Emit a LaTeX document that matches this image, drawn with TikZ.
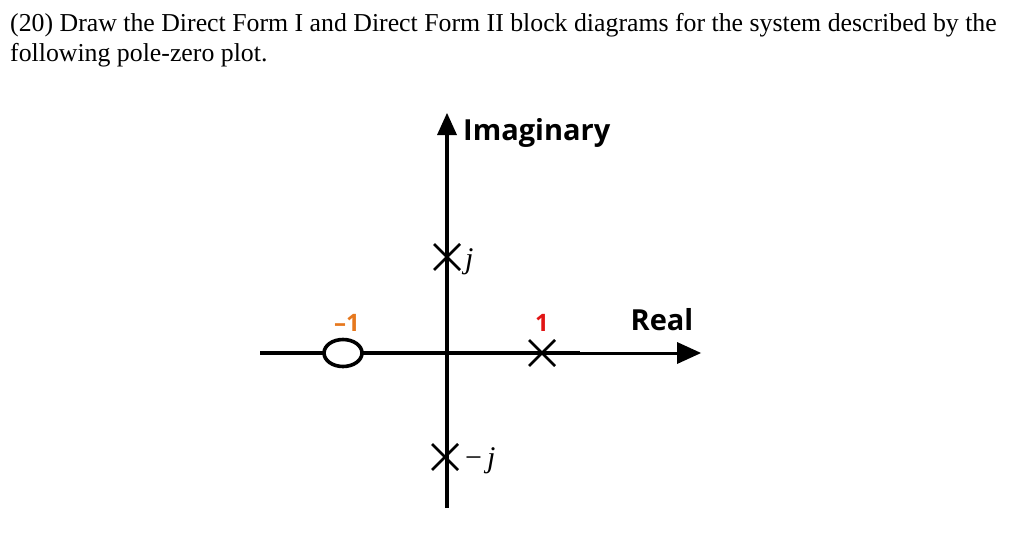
\documentclass[tikz,border=0pt]{standalone}
\usepackage{fontspec}
\setmainfont{Liberation Serif}
\newfontfamily\plotfont{Open Sans}
\begin{document}
\begin{tikzpicture}[x=1pt,y=-1pt,
  ax/.style={line width=4pt},
  cross/.style={line width=2.8pt},
  lbl/.style={font=\plotfont\bfseries\fontsize{29}{32}\selectfont, inner sep=0pt}]
\useasboundingbox (0,0) rectangle (1024,535);
\node[anchor=base west, inner sep=0pt, font=\fontsize{25.8}{30}\selectfont] (t1) at (10,32) {(20) Draw the Direct Form I and Direct Form II block diagrams for the system described by the};
\node[anchor=base west, inner sep=0pt, font=\fontsize{25.8}{30}\selectfont] (t2) at (10,62) {following pole-zero plot.};
% axes
\coordinate (o) at (447,353);
\draw[ax] (447,508) -- (447,128);
\fill (447,113) -- (457,135) -- (437,135) -- cycle;
\draw[ax] (260,353) -- (580,353);
\draw[line width=3pt] (580,353) -- (680,353);
\fill (701,353) -- (677,342) -- (677,364) -- cycle;
% zero
\draw[line width=3.6pt, fill=white] (343,353) ellipse (19 and 13.5);
% poles
\foreach \n/\cx/\cy in {pa/447/257, pb/542/353, pc/445/457}{
  \coordinate (\n) at (\cx,\cy);
  \draw[cross] (\cx-13,\cy-13) -- (\cx+13,\cy+13) (\cx-13,\cy+13) -- (\cx+13,\cy-13);
}
\node[anchor=west, inner sep=0pt, font=\fontsize{30}{32}\selectfont\itshape] (lj) at (465,262) {j};
\node[anchor=west, inner sep=0pt, font=\fontsize{30}{32}\selectfont] (lmj) at (465,461) {−\,\textit{j}};
\node[lbl, text={rgb,255:red,230;green,120;blue,30}, font=\plotfont\bfseries\fontsize{24}{26}\selectfont] (m1) at (347,323) {–1};
\node[lbl, text={rgb,255:red,225;green,20;blue,20}, font=\plotfont\bfseries\fontsize{24}{26}\selectfont] (p1) at (542,323) {1};
\node[lbl] (re) at (662,320) {Real};
\node[lbl, anchor=west] (im) at (463,133) {Imaginary};
\end{tikzpicture}
\end{document}
